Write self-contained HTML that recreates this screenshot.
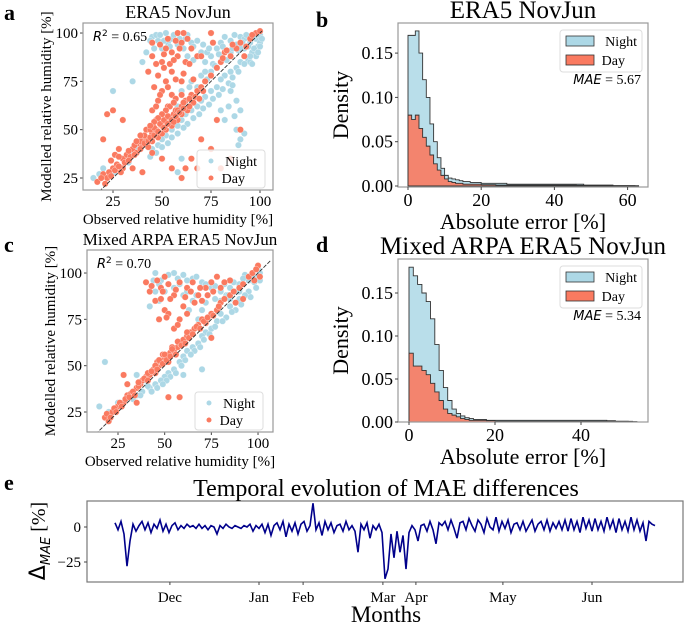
<!DOCTYPE html>
<html><head><meta charset="utf-8">
<style>
html,body{margin:0;padding:0;background:#fff;}
svg{display:block;font-family:"Liberation Serif",serif;}
</style></head>
<body>
<svg id="fig" width="685" height="625" viewBox="0 0 685 625" xmlns="http://www.w3.org/2000/svg">
<text x="4" y="20" font-size="22" font-weight="bold">a</text>
<text x="316" y="27" font-size="22" font-weight="bold">b</text>
<text x="4" y="252" font-size="22" font-weight="bold">c</text>
<text x="316" y="252" font-size="22" font-weight="bold">d</text>
<text x="4" y="490" font-size="22" font-weight="bold">e</text>
</svg>
<script>
// ---------- Scatter data ----------
const aNight=[45,98,48,96,52,100,55,97,58,94,62,97,50,92,42,90,40,85,65,95,70,90,72,85,75,88,78,92,80,95,82,98,85,96,88,94,90,98,92,92,95,95,98,97,100,95,100,99,96,90,94,86,90,85,88,82,85,80,82,78,80,76,78,72,75,70,72,67,70,65,68,62,65,60,62,58,60,55,58,52,55,50,52,47,50,45,48,42,45,40,60,70,65,75,70,78,75,80,85,70,88,65,80,60,82,55,90,45,88,50,15,25,20,30,25,70,35,75,58,28,60,35,95,85,98,88,30,35,35,38,47,99,53,95,85,90,92,97,76,84,68,72,
 44,96,46,92,49,99,51,96,54,93,56,99,59,97,61,92,63,99,66,93,68,96,71,94,73,90,76,95,79,89,81,93,83,91,86,92,87,99,89,91,91,95,93,99,94,93,97,98,99,93,101,97,97,92,95,88,92,84,89,80,86,77,84,74,81,71,79,68,76,66,74,63,71,61,69,58,66,56,63,53,61,51,58,48,55,46,53,43,50,41,47,38,44,36,42,42,38,40,33,33,26,28,18,27,72,80,77,83,83,86,73,76,86,73,90,60,84,62,87,57,92,48,89,42,63,88,66,86,99,90,96,84,100,93,64,72,58,62,74,92,90,92];
const aDay=[17,23,20,27,22,25,25,30,27,32,30,30,30,35,32,37,34,36,35,40,37,38,38,43,40,42,40,45,42,46,43,41,45,48,45,44,47,50,48,46,50,52,50,48,52,54,52,50,54,56,55,52,56,58,57,60,58,55,60,62,60,58,62,65,63,60,65,68,66,64,68,70,70,72,72,75,75,78,45,60,48,65,50,70,52,75,55,80,50,85,45,88,55,90,60,95,58,88,62,85,48,78,52,92,45,95,58,100,65,92,68,88,60,75,55,68,78,82,80,85,85,88,88,92,90,95,95,97,82,90,92,88,98,100,75,100,20,45,22,58,25,60,30,55,60,25,62,30,65,35,68,30,70,45,75,40,80,30,78,55,55,30,50,35,85,35,90,50,40,28,35,30,28,40,45,38,42,50,47,55,53,62,57,66,46,72,51,82,
 19,25,21,22,23,28,24,26,26,29,28,31,29,28,31,33,33,34,33,39,36,37,36,42,39,40,39,44,41,43,41,47,43,44,44,46,44,50,46,47,46,51,48,49,49,53,51,51,51,55,53,53,53,57,55,55,56,54,57,57,58,60,59,59,61,61,61,64,64,62,64,66,67,67,69,66,71,70,54,62,56,64,52,60,50,58,48,56,46,54,44,52,47,62,49,68,53,72,57,76,61,79,54,84,56,86,59,92,51,89,49,94,53,97,63,97,61,100,57,96,47,84,43,80,60,68,64,84,66,76,70,88,76,95,83,91,86,94,93,93,96,99,100,101,81,87,24,34,26,37,28,36,37,44,39,47];
const cNight=[45,100,50,98,55,100,60,99,65,97,70,95,75,92,80,90,85,92,90,94,95,96,100,98,98,95,100,102,95,90,90,86,85,82,80,78,78,74,75,70,72,68,70,66,68,62,65,60,62,58,60,55,58,52,55,48,52,46,50,44,48,42,45,40,42,38,40,42,38,36,35,34,30,32,25,30,18,52,15,28,42,82,45,90,60,88,65,85,70,80,80,85,88,90,20,25,35,45,60,45,70,48,48,96,58,94,73,88,83,88,93,99,
 44,96,47,94,52,99,57,97,62,96,67,98,72,94,77,93,82,94,87,95,92,97,97,99,99,92,101,96,96,87,93,88,91,83,88,80,86,79,83,76,81,74,77,71,74,67,71,64,69,60,66,58,64,56,61,53,59,50,56,46,53,44,51,42,49,40,46,38,43,36,41,39,37,34,33,32,28,30,47,85,50,90,55,92,62,90,67,88,72,84,77,86,84,88,90,90,63,80,68,75,75,78,85,86,101,100];
const cDay=[18,22,20,20,22,25,25,28,28,30,30,34,32,35,35,38,37,40,38,42,40,44,42,45,44,48,45,46,47,50,48,52,50,54,52,52,53,57,55,58,57,60,58,62,60,64,62,66,64,68,66,70,68,72,70,75,72,73,75,78,78,80,80,84,85,88,90,92,95,98,100,104,98,96,92,86,88,84,40,95,42,90,45,85,48,92,50,98,52,94,55,88,50,80,47,75,52,78,55,70,58,75,60,82,62,92,65,95,68,88,70,85,72,92,75,95,78,98,80,92,85,96,30,40,35,30,52,33,58,33,75,65,28,45,43,47,46,52,49,56,54,60,
 19,24,21,22,23,27,24,25,26,30,27,28,29,32,31,33,33,36,34,34,36,39,36,41,39,43,41,42,41,46,43,47,45,50,46,48,47,53,49,51,50,56,51,53,53,55,54,59,56,56,57,63,59,61,61,62,62,68,63,65,65,67,67,71,69,70,71,74,73,76,76,77,79,82,82,86,87,90,92,94,97,100,99,102,101,98,43,93,46,96,49,90,53,86,56,91,58,95,61,87,64,90,66,84,69,92,73,88,76,90,82,95,48,86,51,76,57,72,62,78];
const scatterTicks=[25,50,75,100];

// ---------- Histogram data (density per 1%-bin) ----------
const bTotal=[0.17,0.17,0.175,0.15,0.12,0.10,0.07,0.05,0.032,0.02,0.012,0.009,0.008,0.007,0.006,0.005,0.005,0.004,0.004,0.004,0.003,0.003,0.003,0.003,0.003,0.003,0.003,0.002,0.002,0.002,0.002,0.002,0.002,0.002,0.002,0.002,0.002,0.002,0.002,0.002,0.002,0.002,0.002,0.002,0.002,0.002,0.002,0.002,0.001,0.001,0.001,0.001,0.001,0.001,0.001,0.001,0.0005,0.0005,0.0005,0.0005,0.0005,0.0005,0.0003];
const bDay=[0.08,0.075,0.08,0.065,0.055,0.045,0.035,0.025,0.018,0.012,0.008,0.005,0.004,0.003,0.003,0.002,0.002,0.002,0.002,0.002,0.0015,0.0015,0.0015,0.0015,0.001,0.001,0.001,0.001,0.001,0.001,0.001,0.001,0.001,0.001,0.001,0.001,0.001,0.001,0.001,0.001,0.001,0.001,0.001,0.001,0.001,0.001,0.0008,0.0008,0.0005,0.0005,0.0005,0.0003,0.0003,0.0002,0.0002,0.0002,0.0001,0.0001,0.0001,0.0001,0.0001,0.0001,0.0001];
const dTotal=[0.18,0.17,0.16,0.15,0.14,0.12,0.09,0.06,0.04,0.025,0.015,0.01,0.007,0.005,0.004,0.003,0.003,0.003,0.002,0.002,0.002,0.002,0.002,0.002,0.002,0.002,0.002,0.002,0.002,0.002,0.002,0.002,0.002,0.002,0.002,0.002,0.002,0.002,0.002,0.002,0.002,0.002,0.002,0.002,0.002,0.002,0.0015,0.0015,0.001,0.001,0.001,0.0008,0.0005];
const dDay=[0.08,0.065,0.065,0.06,0.055,0.045,0.035,0.025,0.015,0.01,0.008,0.006,0.004,0.003,0.002,0.002,0.002,0.002,0.0015,0.0015,0.001,0.001,0.001,0.001,0.001,0.001,0.001,0.001,0.001,0.001,0.001,0.001,0.001,0.001,0.001,0.001,0.001,0.001,0.001,0.001,0.001,0.001,0.001,0.001,0.001,0.001,0.001,0.0008,0.0005,0.0003,0.0002,0.0001,0.0001];
const bYTicks=[0,0.05,0.10,0.15];
const bYTickLabels=["0.00","0.05","0.10","0.15"];
const bXTicks=[0,20,40,60];
const dXTicks=[0,20,40];

// ---------- Time series data ----------
const deltaMAE=[3,-2,4,-5,-28,-10,2,-3,1,4,-2,3,-4,2,-1,5,-3,2,-4,1,3,-2,1,-1,2,0,1,-1,2,-1,1,-2,1,0,-5,1,-1,2,0,-1,1,0,-1,1,0,2,-3,1,-1,2,-4,2,-6,1,3,-2,4,-7,2,-3,3,-5,2,4,-3,1,17,-2,3,-6,4,-2,3,-4,1,2,-3,4,-2,1,-3,-18,2,-2,3,-8,1,-2,2,-4,-37,-30,-5,-22,-3,-18,-6,-30,-4,1,-2,-10,1,2,-3,4,-2,-12,3,1,4,-2,5,-1,-8,3,4,-2,6,1,-3,5,2,-4,6,0,-2,7,-3,4,-1,5,-4,2,3,-2,4,-3,1,5,-3,2,4,-2,5,-3,3,-1,4,-2,5,-3,6,-2,4,-4,7,-1,5,-3,6,-2,4,-3,7,-1,5,-4,6,-2,4,-3,7,-2,5,-3,3,-10,4,2,1];
const monthLabels=["Dec","Jan","Feb","Mar","Apr","May","Jun"];
const monthIndex=[18.3,48,62.7,89.3,100.3,129.3,159];
const eYTicks=[0,-25];

const NS="http://www.w3.org/2000/svg";
const svg=document.getElementById('fig');
function mk(tag,attrs,parent){const e=document.createElementNS(NS,tag);for(const k in attrs)e.setAttribute(k,attrs[k]);(parent||svg).appendChild(e);return e;}
function txt(x,y,s,size,anchor,parent){const t=mk('text',{x:x,y:y,'font-size':size,'text-anchor':anchor||'middle',fill:'#000'},parent);t.textContent=s;return t;}

const NIGHT='#add8e6', DAY='#fa7a60';

function scatterPanel(P){
  const g=mk('g',{});
  
  
  const sx=v=>P.x0+(v-25)*P.kx, sy=v=>P.y0-(v-25)*P.ky;
  scatterTicks.forEach(t=>{
    const lx=txt(sx(t),P.bottom+16,String(t),15,'middle',g);
    
    
    mk('line',{x1:sx(t),x2:sx(t),y1:P.bottom,y2:P.bottom+3,stroke:'#444'},g);
    const ly=txt(P.left-5,sy(t)+5,String(t),15,'end',g);
    
    
    mk('line',{x1:P.left-3,x2:P.left,y1:sy(t),y2:sy(t),stroke:'#444'},g);
  });
  const clip='clip'+P.name;
  const cp=mk('clipPath',{id:clip},g);mk('rect',{x:P.left,y:P.top,width:P.right-P.left,height:P.bottom-P.top},cp);
  const pg=mk('g',{'clip-path':'url(#'+clip+')'},g);
  [[P.night,NIGHT,'night-point'],[P.day,DAY,'day-point']].forEach(([arr,col,nm])=>{
    for(let i=0;i<arr.length;i+=2){
      const c=mk('circle',{cx:sx(arr[i]),cy:sy(arr[i+1]),r:3.2,fill:col,stroke:'#fff','stroke-width':0.3},pg);
      
      
    }
  });
  const dl=mk('line',{x1:sx(P.l0),y1:sy(P.l0),x2:sx(P.l1),y2:sy(P.l1),stroke:'#333','stroke-width':0.9,'stroke-dasharray':'4,1.5'},pg);
  
  
  mk('rect',{x:P.left,y:P.top,width:P.right-P.left,height:P.bottom-P.top,fill:'none',stroke:'#999','stroke-width':1.2},g);
  const r=mk('text',{x:P.left+10,y:P.top+18,'font-size':14},g);
  
  
  r.innerHTML='<tspan font-family="DejaVu Sans, sans-serif" font-style="italic" font-size="13">R</tspan><tspan dy="-5" font-size="9" font-family="DejaVu Sans, sans-serif">2</tspan><tspan dy="5"> = '+P.r2+'</tspan>';
  const lg=mk('g',{},g);
  
  
  mk('rect',{x:P.lx,y:P.ly,width:68,height:38,rx:3,fill:'rgba(255,255,255,0.8)',stroke:'#ddd'},lg);
  mk('circle',{cx:P.lx+14,cy:P.ly+11,r:2.5,fill:NIGHT},lg);
  txt(P.lx+60,P.ly+16,'Night',14,'end',lg);
  mk('circle',{cx:P.lx+14,cy:P.ly+28,r:2.5,fill:DAY},lg);
  txt(P.lx+48,P.ly+33,'Day',14,'end',lg);
  const ti=txt((P.left+P.right)/2,P.top-5,P.title,P.tsize,'middle',g);
  
  
  const xl=txt((P.left+P.right)/2,P.bottom+34,'Observed relative humidity [%]',15,'middle',g);
  
  
  const cy=(P.top+P.bottom)/2;
  const yl=txt(0,0,'Modelled relative humidity [%]',15,'middle',g);
  yl.setAttribute('transform','translate('+(P.left-32)+','+cy+') rotate(-90)');
  
  
}

scatterPanel({name:'scatter-era5',left:83,right:273,top:23,bottom:190,x0:113,kx:1.96,y0:178,ky:1.933,night:aNight,day:aDay,l0:14,l1:101,r2:'0.65',lx:197,ly:150,title:'ERA5 NovJun',tsize:18});
scatterPanel({name:'scatter-mixed',left:87,right:273,top:250,bottom:432,x0:118,kx:1.867,y0:412,ky:1.853,night:cNight,day:cDay,l0:13,l1:107,r2:'0.70',lx:195,ly:392,title:'Mixed ARPA ERA5 NovJun',tsize:17});

function histPanel(P){
  const g=mk('g',{});
  
  
  const sx=v=>P.x0+v*P.kx, sy=v=>P.y0-v*P.ky;
  function stepPath(arr){
    let d='M'+sx(0)+','+sy(0);
    arr.forEach((v,i)=>{d+=' L'+sx(i)+','+sy(v)+' L'+sx(i+1)+','+sy(v);});
    d+=' L'+sx(arr.length)+','+sy(0)+' Z';return d;
  }
  const n=mk('path',{d:stepPath(P.total),fill:'#add8e6','fill-opacity':0.85,stroke:'#333','stroke-width':0.9},g);
  
  
  const dd=mk('path',{d:stepPath(P.day),fill:'#fa7a60','fill-opacity':0.9,stroke:'#333','stroke-width':0.9},g);
  
  
  mk('rect',{x:P.left,y:P.top,width:P.right-P.left,height:P.bottom-P.top,fill:'none',stroke:'#999','stroke-width':1.2},g);
  bYTicks.forEach((t,i)=>{
    mk('line',{x1:P.left-3,x2:P.left,y1:sy(t),y2:sy(t),stroke:'#444'},g);
    const l=txt(P.left-5,sy(t)+6,bYTickLabels[i],18,'end',g);
    
    
  });
  P.xt.forEach(t=>{
    mk('line',{x1:sx(t),x2:sx(t),y1:P.bottom,y2:P.bottom+3,stroke:'#444'},g);
    const l=txt(sx(t),P.bottom+19,String(t),18,'middle',g);
    
    
  });
  const ti=txt((P.left+P.right)/2,P.top-5,P.title,P.tsize,'middle',g);
  
  
  const xl=txt((P.left+P.right)/2,P.bottom+42,'Absolute error [%]',22,'middle',g);
  
  
  const yl=txt(0,0,'Density',22,'middle',g);
  yl.setAttribute('transform','translate('+(P.left-50)+','+((P.top+P.bottom)/2)+') rotate(-90)');
  
  
  const lg=mk('g',{},g);
  
  
  mk('rect',{x:P.lx,y:P.ly,width:82,height:42,rx:3,fill:'#fff',stroke:'#ddd'},lg);
  mk('rect',{x:P.lx+6,y:P.ly+6,width:28,height:10,fill:'#add8e6',stroke:'#333','stroke-width':0.8},lg);
  txt(P.lx+77,P.ly+16,'Night',14,'end',lg);
  mk('rect',{x:P.lx+6,y:P.ly+25,width:28,height:10,fill:'#fa7a60',stroke:'#333','stroke-width':0.8},lg);
  txt(P.lx+65,P.ly+35,'Day',14,'end',lg);
  const m=mk('text',{x:P.lx+81,y:P.ly+54,'font-size':14,'text-anchor':'end'},g);
  
  
  m.innerHTML='<tspan font-family="DejaVu Sans, sans-serif" font-style="italic" font-size="13">MAE</tspan> = '+P.mae;
}
histPanel({name:'hist-era5',left:398,right:648,top:23,bottom:187,x0:408,kx:3.66,y0:186,ky:886,total:bTotal,day:bDay,xt:bXTicks,lx:560,ly:30,mae:'5.67',title:'ERA5 NovJun',tsize:25});
histPanel({name:'hist-mixed',left:398,right:648,top:259,bottom:422,x0:409,kx:4.3,y0:422,ky:860,total:dTotal,day:dDay,xt:dXTicks,lx:560,ly:266,mae:'5.34',title:'Mixed ARPA ERA5 NovJun',tsize:25});

// time series
(function(){
  const g=mk('g',{});
  
  
  const L=87,R=683,T=501,B=582;
  const sx=i=>115+i*(540/(deltaMAE.length-1)), sy=v=>527-v*1.4;
  mk('rect',{x:L,y:T,width:R-L,height:B-T,fill:'none',stroke:'#777','stroke-width':1.2},g);
  let d='';deltaMAE.forEach((v,i)=>{d+=(i?' L':'M')+sx(i).toFixed(1)+','+sy(v).toFixed(1);});
  const p=mk('path',{d:d,fill:'none',stroke:'#00008b','stroke-width':1.6},g);
  
  
  eYTicks.forEach(t=>{
    mk('line',{x1:L-3,x2:L,y1:sy(t),y2:sy(t),stroke:'#444'},g);
    const l=txt(L-6,sy(t)+5,t<0?'\u2212'+Math.abs(t):String(t),15,'end',g);
    
    
  });
  monthIndex.forEach((m,i)=>{
    mk('line',{x1:sx(m),x2:sx(m),y1:B,y2:B+3,stroke:'#444'},g);
    const l=txt(sx(m),B+20,monthLabels[i],15,'middle',g);
    
    
  });
  const ti=txt(386,496,'Temporal evolution of MAE differences',24,'middle',g);
  
  
  const xl=txt(386,622,'Months',23,'middle',g);
  
  
  const yl=mk('text',{'font-size':20,'text-anchor':'middle',transform:'translate(45,541) rotate(-90)'},g);
  yl.innerHTML='<tspan font-family="DejaVu Sans, sans-serif" font-size="22">\u0394</tspan><tspan font-family="DejaVu Sans, sans-serif" font-style="italic" font-size="13" dy="5">MAE</tspan><tspan dy="-5"> [%]</tspan>';
  
  
})();
</script>
</body></html>
